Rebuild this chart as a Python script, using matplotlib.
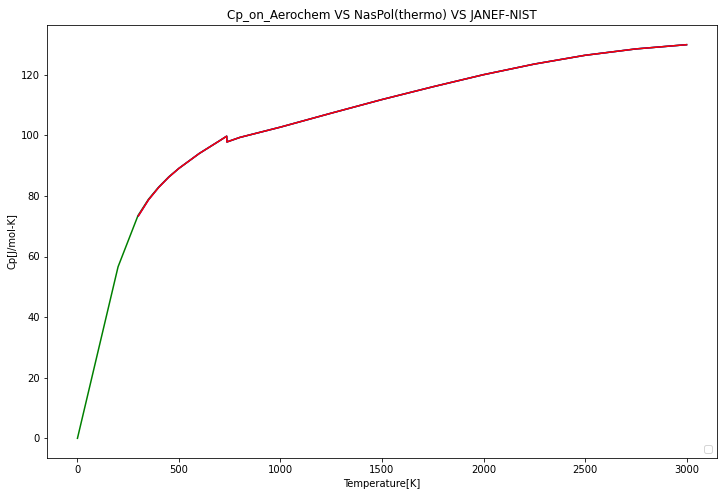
import matplotlib
matplotlib.use('Agg')
import matplotlib.pyplot as plt

# JANAF-NIST tabulated values
T_janaf = [0, 100, 200, 298.15, 300, 350, 400, 450, 500, 600, 700, 735, 736, 800, 1000,
           1250, 1500, 1750, 2000, 2250, 2500, 2750, 3000]
cp_janaf = [0.0, 28.3, 56.6, 73.5, 73.7, 78.9, 82.9, 86.3, 89.1, 94.0, 98.2, 99.7, 97.8,
            99.3, 102.7, 107.3, 111.8, 116.0, 120.0, 123.5, 126.4, 128.5, 129.9]

# NASA polynomial / Aerochem, from 300 K
T_poly = [300, 350, 400, 450, 500, 600, 700, 735, 736, 800, 1000,
          1250, 1500, 1750, 2000, 2250, 2500, 2750, 3000]
cp_nas = [73.4, 78.7, 82.8, 86.2, 89.1, 94.0, 98.2, 99.7, 97.8,
          99.3, 102.7, 107.3, 111.8, 116.0, 120.0, 123.5, 126.4, 128.5, 129.9]
cp_aero = cp_nas

fig = plt.figure(figsize=(724/72, 496/72), dpi=72)
ax = fig.add_axes([47/724, 38/496, 670/724, 433/496])
ax.plot(T_janaf, cp_janaf, 'g')
ax.plot(T_poly, cp_nas, 'b')
ax.plot(T_poly, cp_aero, 'r')
ax.set_title('Cp_on_Aerochem VS NasPol(thermo) VS JANEF-NIST')
ax.set_xlabel('Temperature[K]')
ax.set_ylabel('Cp[J/mol-K]')
ax.legend(loc='lower right', handles=[])
fig.savefig('out.png', dpi=72)
